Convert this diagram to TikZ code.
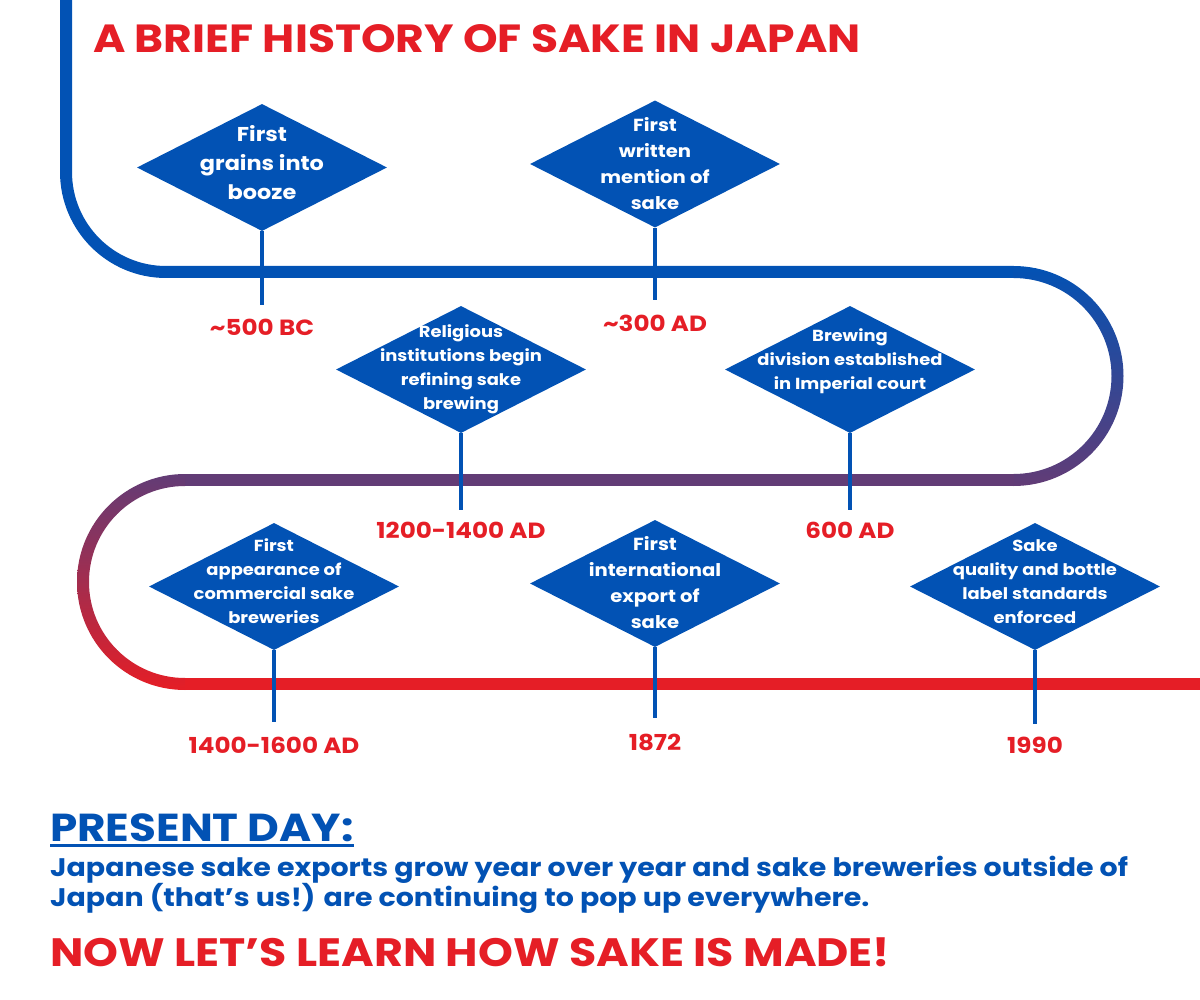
\documentclass[tikz,border=0pt]{standalone}
\usepackage{fontspec}
\setmainfont{Poppins}[FakeStretch=1.12]
\usetikzlibrary{shapes.geometric}
\definecolor{sblue}{RGB}{2,82,180}
\definecolor{sred}{RGB}{229,30,38}
\definecolor{spurple}{RGB}{98,60,118}
\tikzset{
  mainline/.style={line width=12pt},
  stem/.style={line width=4pt, draw=sblue},
  event/.style={shape=diamond, fill=sblue, inner sep=0pt, minimum width=250pt, minimum height=127pt},
  evtext/.style 2 args={text=white, align=center, inner sep=0pt, font=\bfseries\fontsize{#1}{#2}\selectfont},
  date/.style={text=sred, inner sep=0pt, font=\bfseries\fontsize{22}{26}\selectfont},
  bodyline/.style={anchor=base west, inner sep=0pt, text=sblue, font=\bfseries\fontsize{25.4}{30}\selectfont},
}
\begin{document}
\begin{tikzpicture}[x=1pt,y=-1pt]
\useasboundingbox (0,0) rectangle (1200,1000);
% main timeline path
\draw[mainline, sblue, rounded corners=100pt] (66,-10) |- (1013.5,272);
\begin{scope}
  \clip (1013.5,250) rectangle (1140,500);
  \shade[even odd rule, top color=sblue, bottom color=spurple] (1013.5,376) circle (110) (1013.5,376) circle (98);
\end{scope}
\draw[mainline, spurple] (1013.5,480) -- (185,480);
\begin{scope}
  \clip (50,460) rectangle (185,700);
  \shade[even odd rule, top color=spurple, bottom color=sred] (185,582) circle (108) (185,582) circle (96);
\end{scope}
\draw[mainline, sred] (185,684) -- (1210,684);

% title
\node[anchor=base west, inner sep=0pt, text=sred, font=\bfseries\fontsize{39.3}{44}\selectfont] (title) at (93,53) {A BRIEF HISTORY OF SAKE IN JAPAN};

% events
\node[event] (d1) at (262,167.5) {};
\node[event] (d2) at (655,164) {};
\node[event] (d3) at (461,369.5) {};
\node[event] (d4) at (850,369.5) {};
\node[event] (d5) at (274,586.5) {};
\node[event] (d6) at (655,583.5) {};
\node[event] (d7) at (1035,586.5) {};

\coordinate (s1) at (262,305);
\coordinate (s2) at (655,300);
\coordinate (s3) at (461,510);
\coordinate (s4) at (850,510);
\coordinate (s5) at (274,722);
\coordinate (s6) at (655,718);
\coordinate (s7) at (1035,724);
\foreach \i in {1,...,7}{\draw[stem] (d\i.south) -- (s\i);}

\node[evtext={20}{29}] (t1) at (262,163) {First\\grains into\\booze};
\node[evtext={17.5}{26}] (t2) at (655,164) {First\\written\\mention of\\sake};
\node[evtext={16}{24}] (t3) at (461,369) {Religious\\institutions begin\\refining sake\\brewing};
\node[evtext={16}{24}] (t4) at (850,361) {Brewing\\division established\\in Imperial court};
\node[evtext={16}{24}] (t5) at (274,581) {First\\appearance of\\commercial sake\\breweries};
\node[evtext={17.5}{26}] (t6) at (655,583) {First\\international\\export of\\sake};
\node[evtext={16}{24}] (t7) at (1035,582) {Sake\\quality and bottle\\label standards\\enforced};

\node[date] (y1) at (262,327) {\textasciitilde500 BC};
\node[date] (y2) at (655,323) {\textasciitilde300 AD};
\node[date] (y3) at (461,530) {1200-1400 AD};
\node[date] (y4) at (850,530) {600 AD};
\node[date] (y5) at (274,745) {1400-1600 AD};
\node[date] (y6) at (655,742) {1872};
\node[date] (y7) at (1035,745) {1990};

% bottom text
\node[anchor=base west, inner sep=0pt, text=sblue, font=\bfseries\fontsize{39}{44}\selectfont] (pd) at (50,841) {PRESENT DAY:};
\draw[sblue, line width=3pt] ([yshift=-4pt]pd.base west) -- ([yshift=-4pt]pd.base east);
\node[bodyline] (b1) at (50,876) {Japanese sake exports grow year over year and sake breweries outside of};
\node[bodyline] (b2) at (50,906) {Japan (that’s us!) are continuing to pop up everywhere.};
\node[anchor=base west, inner sep=0pt, text=sred, font=\bfseries\fontsize{39.6}{44}\selectfont] (now) at (50,966) {NOW LET’S LEARN HOW SAKE IS MADE!};
\end{tikzpicture}
\end{document}
